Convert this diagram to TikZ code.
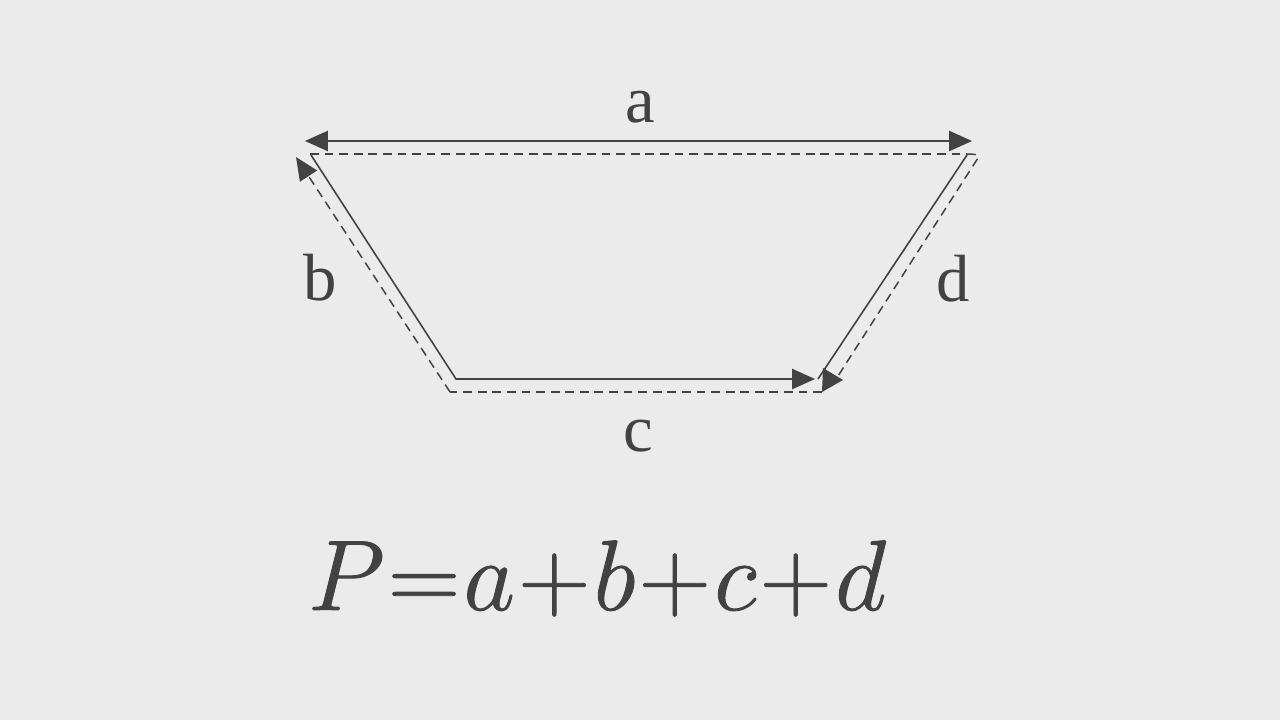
\RequirePackage{fix-cm}
\documentclass[tikz,border=0pt]{standalone}
\usepackage{fontspec}
\setmainfont{Liberation Serif}
\usetikzlibrary{arrows.meta}
\definecolor{bgpaper}{RGB}{235,235,235}
\definecolor{ink}{RGB}{66,66,66}
\newcommand{\heavytext}[1]{\special{pdf:code 2 Tr 0.5 w}#1\special{pdf:code 0 Tr}}
\begin{document}
\begin{tikzpicture}[x=0.02cm,y=-0.02cm,>={Triangle[length=13pt,width=11.5pt]},
    side/.style={ink,line width=0.9pt},
    trace/.style={ink,line width=0.85pt,dash pattern=on 5pt off 3.3pt},
    lbl/.style={ink,anchor=base,font=\fontsize{38}{40}\selectfont}]
    \fill[bgpaper] (0,0) rectangle (1280,720);
    \useasboundingbox (0,0) rectangle (1280,720);
    % corners of the solid outline
    \coordinate (tl) at (311,155);
    \coordinate (bl) at (456,379);
    \coordinate (br) at (818,379);
    \coordinate (tr) at (967,155);
    % corners of the dashed trace
    \coordinate (dtl) at (310,154);
    \coordinate (dtr) at (967,154);
    \coordinate (dtrb) at (978,158);
    \coordinate (dbr) at (838,376);
    \coordinate (dcr) at (822,392);
    \coordinate (dbl) at (450,392);
    \coordinate (dbt) at (296,157);
    % side a with two heads
    \coordinate (al) at (305,141);
    \coordinate (ar) at (972,141);
    \draw[side,<->] (al) -- (ar);
    % solid sides b, c and d
    \draw[side,->] (tl) -- (bl) -- (815,379);
    \draw[side] (br) -- (tr);
    % dashed trace round the figure
    \draw[trace] (dtl) -- (dtr);
    \draw[trace] (dtr) to[out=0,in=60] (dtrb) -- (dbr);
    \draw[trace] (dcr) -- (dbl);
    \draw[trace,->] (dbl) -- (dbt);
    \fill[ink] (823,368) -- (843,380) -- (822,392) -- cycle;
    % labels
    \node[lbl] (la) at (640,122) {a};
    \node[lbl] (lb) at (320,300) {b};
    \node[lbl] (lc) at (638,451) {c};
    \node[lbl] (ld) at (953,301) {d};
    % the formula
    \node[ink,anchor=base,font=\fontsize{57}{60}\selectfont] (perim) at (597,610)
        {\heavytext{$\thickmuskip=0.6mu \medmuskip=0.6mu P=a+b+c+d$}};
\end{tikzpicture}
\end{document}
